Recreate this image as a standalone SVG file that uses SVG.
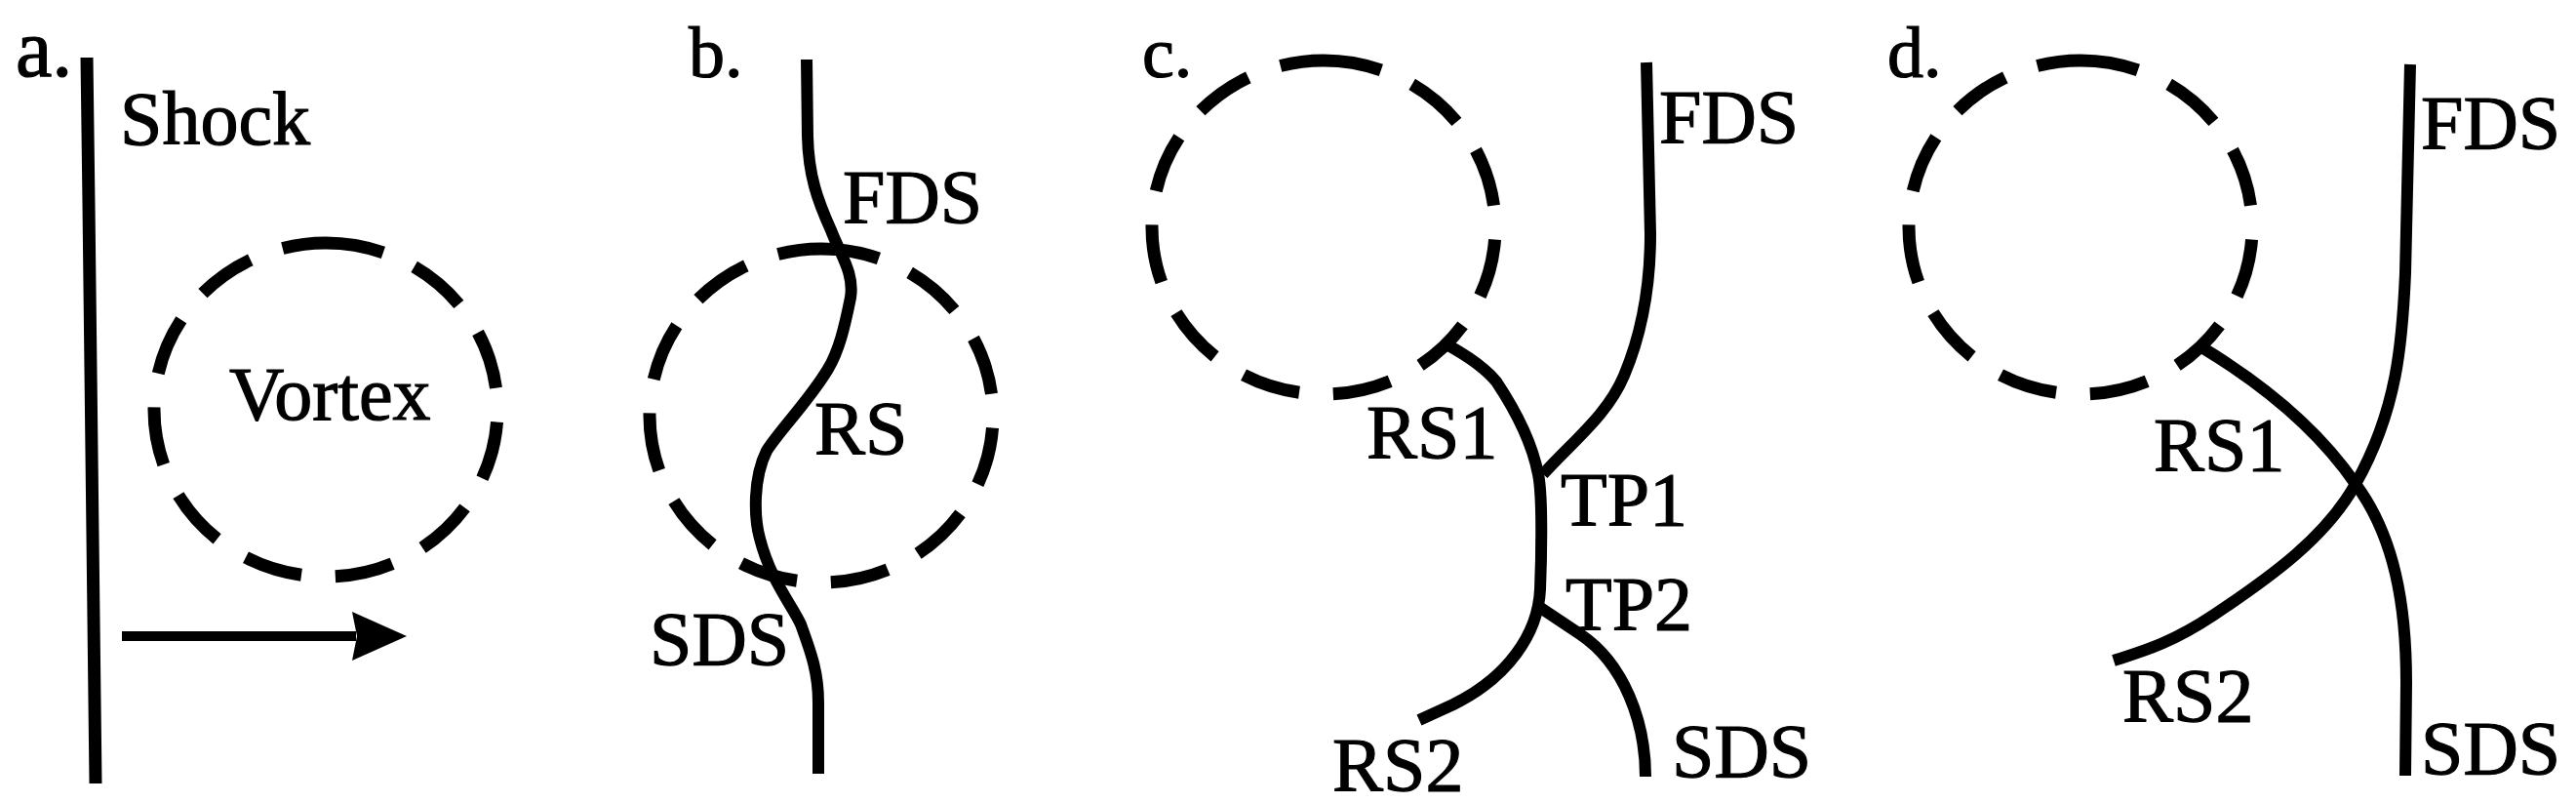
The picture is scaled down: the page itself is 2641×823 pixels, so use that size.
<svg xmlns="http://www.w3.org/2000/svg" width="2641" height="823" viewBox="0 0 2641 823">
<style>
text{font-family:"Liberation Serif","Times New Roman",serif;font-size:78px;fill:#000;stroke:#000;stroke-width:1.2}
.t{font-size:74px}
.line{fill:none;stroke:#000;stroke-width:12}
.dash{fill:none;stroke:#000;stroke-width:13;stroke-dasharray:60 35}
</style>
<defs>
<path id="vortex" class="dash" d="M0 -171A176 171 0 1 1 0 171A176 171 0 1 1 0 -171Z"/>
<marker id="head" markerUnits="userSpaceOnUse" markerWidth="60" markerHeight="52" refX="4" refY="25" orient="auto"><polygon points="0,0 56,25 0,50 5,25"/></marker>
</defs>
<rect width="2641" height="823" fill="#fff"/>
<g id="panel-a">
<text x="16" y="78" style="font-size:84px">a.</text>
<text x="123" y="148">Shock</text>
<g id="vortex-a"><use href="#vortex" x="334" y="420"/><text x="235" y="430">Vortex</text></g>
</g>
<g id="panel-b">
<text x="706" y="79" class="t">b.</text>
<g id="vortex-b"><use href="#vortex" x="842" y="426"/></g>
<text x="864" y="228">FDS</text>
<text x="835" y="465">RS</text>
<text x="666" y="681">SDS</text>
</g>
<g id="panel-c">
<text x="1171" y="79" class="t">c.</text>
<g id="vortex-c"><use href="#vortex" x="1357" y="233"/></g>
<text x="1701" y="146">FDS</text>
<text x="1401" y="469">RS1</text>
<text x="1600" y="538">TP1</text>
<text x="1605" y="645">TP2</text>
<text x="1366" y="810">RS2</text>
<text x="1714" y="796">SDS</text>
</g>
<g id="panel-d">
<text x="1935" y="79" class="t">d.</text>
<g id="vortex-d"><use href="#vortex" x="2133" y="233"/></g>
<text x="2482" y="152">FDS</text>
<text x="2208" y="482">RS1</text>
<text x="2176" y="739">RS2</text>
<text x="2482" y="793">SDS</text>
</g>
<g id="connectors">
<path class="line" style="stroke-width:13" d="M89 59L91 210L98 803"/>
<path class="line" style="stroke-width:10" d="M125 652H365" marker-end="url(#head)"/>
<path class="line" d="M827 61L828 140C829 180 838 205 852 236C862 262 876 280 872 305C866 335 860 360 849 378C830 410 800 440 786 462C772 490 773 530 779 552C790 595 812 620 821 640C832 670 839 690 839 720L839 793"/>
<path class="line" d="M1688 64L1692 240C1692 290 1684 340 1665 385C1648 425 1615 450 1582 486"/>
<path class="line" d="M1485 354C1510 368 1525 380 1534 391C1550 415 1570 450 1577 486C1582 510 1580 580 1579 604C1577 650 1545 695 1490 722L1455 738"/>
<path class="line" d="M1578 622L1620 650C1665 680 1687 740 1687 796"/>
<path class="line" d="M2471 66L2466 280C2463 350 2458 420 2415 496C2385 550 2330 590 2270 630C2225 660 2195 668 2167 677"/>
<path class="line" d="M2259 357C2330 400 2380 445 2415 496C2455 550 2467 620 2467 700L2466 795"/>
</g>
</svg>
